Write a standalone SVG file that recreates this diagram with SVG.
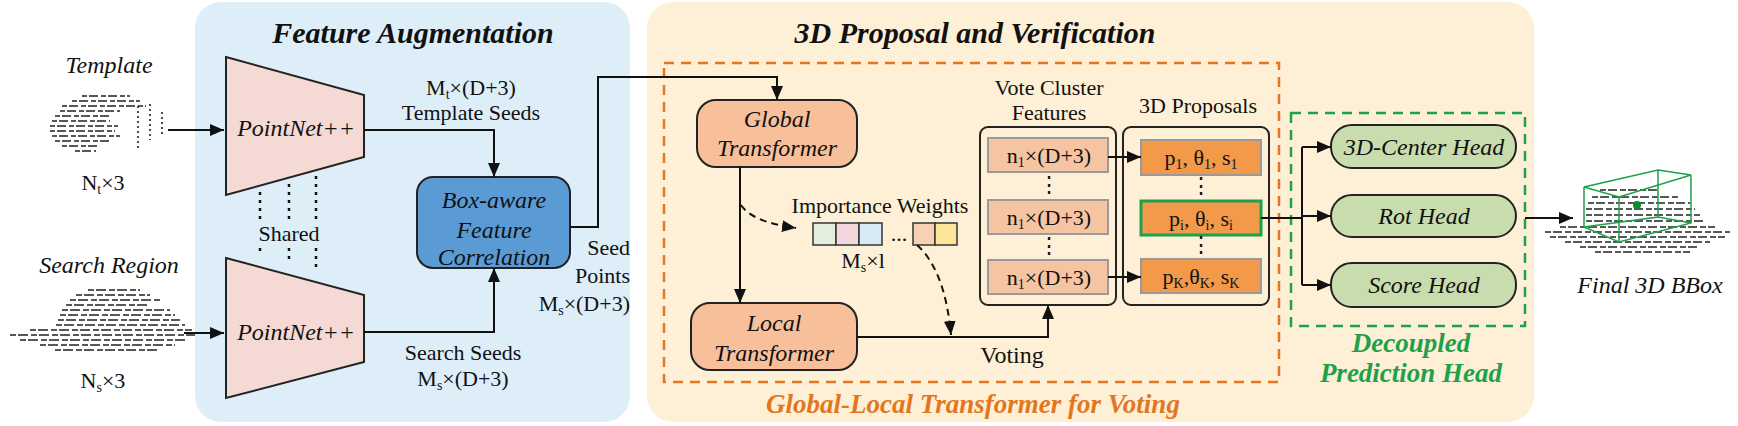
<svg xmlns="http://www.w3.org/2000/svg" width="1738" height="426" viewBox="0 0 1738 426">
<style>
text{font-family:"Liberation Serif","Times New Roman",serif;fill:#111;text-anchor:middle}
.t{font-size:22px}
.it{font-style:italic;font-size:24px}
.ttl{font-weight:bold;font-style:italic;font-size:30px}
.ln{fill:none;stroke:#111;stroke-width:2}
.dash{fill:none;stroke:#111;stroke-width:2;stroke-dasharray:7 5}
.cl{fill:none;stroke:#222;stroke-width:1.6}
.rnd{stroke:#222;stroke-width:2}
.vr{fill:#f5c4a2;stroke:#9a9a9a;stroke-width:2}
.pr{fill:#f2994a;stroke:#9a9a9a;stroke-width:2}
.hd{fill:#c9dcad;stroke:#222;stroke-width:2}
</style>
<defs>
<marker id="ah" viewBox="0 0 10 10" refX="9" refY="5" markerWidth="7" markerHeight="7" markerUnits="userSpaceOnUse" orient="auto" style="overflow:visible"><path d="M0,0 L10,5 L0,10 z" fill="#111" transform="scale(1.6) translate(-4,-1.9)"/></marker>
<marker id="a" viewBox="0 0 14 12" refX="14" refY="6" markerWidth="14" markerHeight="12" markerUnits="userSpaceOnUse" orient="auto"><path d="M0,0 L14,6 L0,12 z" fill="#111"/></marker>
</defs>
<g id="panels">
<rect x="195" y="2" width="435" height="420" rx="26" fill="#ddeef9"/>
<rect x="647" y="2" width="887" height="420" rx="26" fill="#fdf0d6"/>
<text class="ttl" x="413" y="43">Feature Augmentation</text>
<text class="ttl" x="975" y="43">3D  Proposal and Verification</text>
</g>
<g id="template">
<text class="it" x="109" y="73">Template</text>
<g class="cl" stroke-dasharray="5 2 9 3">
<path d="M82 96 H130 M72 101 H140 M62 106 H146 M60 111 H120 M55 116 H112 M52 121 H110 M50 126 H118 M50 131 H115 M52 136 H120 M55 141 H112 M62 146 H100 M75 151 H96"/>
<path d="M138 106 V150 M150 104 V140 M162 112 V134" stroke-dasharray="2 3"/>
</g>
<text class="t" x="103" y="190">N<tspan font-size="14" dy="4">t</tspan><tspan dy="-4">×3</tspan></text>
</g>
<g id="search">
<text class="it" x="109" y="273">Search Region</text>
<g class="cl" stroke-dasharray="6 2 10 3">
<path d="M88 290 H140 M76 295 H150 M70 300 H160 M66 305 H150 M62 310 H170 M60 315 H175 M58 320 H180 M56 325 H185 M30 330 H192 M10 335 H195 M20 340 H185 M40 345 H175 M55 350 H160"/>
</g>
<text class="t" x="103" y="388">N<tspan font-size="14" dy="4">s</tspan><tspan dy="-4">×3</tspan></text>
</g>
<g id="pointnet-top">
<polygon points="226,57 364,95 364,157 226,195" fill="#f4d9d4" stroke="#222" stroke-width="2"/>
<text class="it" x="296" y="136">PointNet++</text>
</g>
<g id="pointnet-bottom">
<polygon points="226,258 364,295 364,362 226,398" fill="#f4d9d4" stroke="#222" stroke-width="2"/>
<text class="it" x="296" y="340">PointNet++</text>
</g>
<g id="shared">
<path d="M260 192 V255 M289 184 V262 M316 176 V270" fill="none" stroke="#111" stroke-width="2.5" stroke-dasharray="3 5"/>
<rect x="258" y="220" width="62" height="26" fill="#ddeef9"/>
<text class="t" x="289" y="241">Shared</text>
</g>
<g id="boxaware">
<rect x="417" y="177" width="153" height="91" rx="16" fill="#5b9bd5" stroke="#222" stroke-width="2"/>
<text class="it" x="494" y="208">Box-aware</text>
<text class="it" x="494" y="238">Feature</text>
<text class="it" x="494" y="265">Correlation</text>
</g>
<g id="fa-labels">
<text class="t" x="471" y="95">M<tspan font-size="14" dy="4">t</tspan><tspan dy="-4">×(D+3)</tspan></text>
<text class="t" x="471" y="120">Template Seeds</text>
<text class="t" x="463" y="360">Search Seeds</text>
<text class="t" x="463" y="386">M<tspan font-size="14" dy="4">s</tspan><tspan dy="-4">×(D+3)</tspan></text>
<text class="t" x="630" y="255" style="text-anchor:end">Seed</text>
<text class="t" x="630" y="283" style="text-anchor:end">Points</text>
<text class="t" x="630" y="311" style="text-anchor:end">M<tspan font-size="14" dy="4">s</tspan><tspan dy="-4">×(D+3)</tspan></text>
</g>
<g id="glt-frame">
<rect x="664" y="63" width="615" height="319" fill="none" stroke="#e4761e" stroke-width="2.5" stroke-dasharray="10 7"/>
<text class="ttl" x="973" y="413" style="fill:#e4761e;font-size:27px">Global-Local Transformer for Voting</text>
</g>
<g id="global">
<rect x="697" y="100" width="160" height="67" rx="19" fill="#f8c09a" stroke="#222" stroke-width="2"/>
<text class="it" x="777" y="127">Global</text>
<text class="it" x="777" y="156">Transformer</text>
</g>
<g id="local">
<rect x="691" y="303" width="166" height="67" rx="19" fill="#f8c09a" stroke="#222" stroke-width="2"/>
<text class="it" x="774" y="331">Local</text>
<text class="it" x="774" y="361">Transformer</text>
</g>
<g id="weights">
<text class="t" x="880" y="213">Importance Weights</text>
<rect x="813" y="223" width="23" height="22" fill="#e3efdc" stroke="#333" stroke-width="1.5"/>
<rect x="836" y="223" width="23" height="22" fill="#f2d8dd" stroke="#333" stroke-width="1.5"/>
<rect x="859" y="223" width="23" height="22" fill="#d7eaf6" stroke="#333" stroke-width="1.5"/>
<text class="t" x="899" y="241">...</text>
<rect x="913" y="223" width="22" height="22" fill="#f8d1b4" stroke="#333" stroke-width="1.5"/>
<rect x="935" y="223" width="22" height="22" fill="#fde59a" stroke="#333" stroke-width="1.5"/>
<text class="t" x="863" y="268">M<tspan font-size="14" dy="4">s</tspan><tspan dy="-4">×l</tspan></text>
</g>
<g id="vote-cluster">
<text class="t" x="1049" y="95">Vote Cluster</text>
<text class="t" x="1049" y="120">Features</text>
<rect x="980" y="127" width="136" height="178" rx="8" fill="none" stroke="#222" stroke-width="2"/>
<rect class="vr" x="988" y="138" width="120" height="34"/>
<rect class="vr" x="988" y="200" width="120" height="34"/>
<rect class="vr" x="988" y="260" width="120" height="34"/>
<text class="t" x="1049" y="163">n<tspan font-size="14" dy="4">1</tspan><tspan dy="-4">×(D+3)</tspan></text>
<text class="t" x="1049" y="225">n<tspan font-size="14" dy="4">1</tspan><tspan dy="-4">×(D+3)</tspan></text>
<text class="t" x="1049" y="285">n<tspan font-size="14" dy="4">1</tspan><tspan dy="-4">×(D+3)</tspan></text>
<text class="t" x="1049" y="192">⋮</text>
<text class="t" x="1049" y="253">⋮</text>
</g>
<g id="proposals">
<text class="t" x="1198" y="113">3D Proposals</text>
<rect x="1123" y="127" width="146" height="178" rx="8" fill="none" stroke="#222" stroke-width="2"/>
<rect class="pr" x="1141" y="140" width="120" height="35"/>
<rect class="pr" x="1141" y="201" width="120" height="34" style="stroke:#1fa04a;stroke-width:3"/>
<rect class="pr" x="1141" y="259" width="120" height="34"/>
<text class="t" x="1201" y="165">p<tspan font-size="14" dy="4">1</tspan><tspan dy="-4">, θ</tspan><tspan font-size="14" dy="4">1</tspan><tspan dy="-4">, s</tspan><tspan font-size="14" dy="4">1</tspan></text>
<text class="t" x="1201" y="226">p<tspan font-size="14" dy="4">i</tspan><tspan dy="-4">, θ</tspan><tspan font-size="14" dy="4">i</tspan><tspan dy="-4">, s</tspan><tspan font-size="14" dy="4">i</tspan></text>
<text class="t" x="1201" y="284">p<tspan font-size="14" dy="4">K</tspan><tspan dy="-4">,θ</tspan><tspan font-size="14" dy="4">K</tspan><tspan dy="-4">, s</tspan><tspan font-size="14" dy="4">K</tspan></text>
<text class="t" x="1201" y="193">⋮</text>
<text class="t" x="1201" y="252">⋮</text>
</g>
<g id="heads">
<rect x="1291" y="113" width="234" height="213" fill="none" stroke="#1fa04a" stroke-width="2.5" stroke-dasharray="10 7"/>
<rect class="hd" x="1331" y="125" width="185" height="43" rx="21"/>
<rect class="hd" x="1331" y="195" width="185" height="42" rx="21"/>
<rect class="hd" x="1331" y="263" width="185" height="44" rx="21"/>
<text class="it" x="1424" y="155">3D-Center Head</text>
<text class="it" x="1424" y="224">Rot Head</text>
<text class="it" x="1424" y="293">Score Head</text>
<text class="ttl" x="1411" y="352" style="fill:#1fa04a;font-size:27px">Decoupled</text>
<text class="ttl" x="1411" y="382" style="fill:#1fa04a;font-size:27px">Prediction Head</text>
</g>
<g id="final">
<g class="cl" stroke-dasharray="6 2 9 3">
<path d="M1600 190 H1660 M1592 197 H1680 M1588 203 H1690 M1586 209 H1695 M1586 215 H1700 M1586 221 H1705 M1560 227 H1715 M1545 232 H1730 M1550 237 H1725 M1565 242 H1710 M1580 247 H1700 M1595 252 H1690"/>
</g>
<g fill="none" stroke="#1fa04a" stroke-width="1.5">
<path d="M1584 187 L1619 197 L1691 175 L1658 170 Z"/>
<path d="M1584 187 V227 L1619 242 L1691 223 V175 M1619 197 V242 M1658 170 V217 L1584 227 M1658 217 L1691 223"/>
</g>
<circle cx="1637" cy="205" r="4" fill="#0a8a2a"/>
<text class="it" x="1650" y="293">Final 3D BBox</text>
</g>
<g id="connectors">
<path class="ln" d="M168 130 H224" stroke-width="3" marker-end="url(#a)"/>
<path class="ln" d="M184 333 H224" stroke-width="3" marker-end="url(#a)"/>
<path class="ln" d="M364 130 H494 V177" marker-end="url(#a)"/>
<path class="ln" d="M364 332 H494 V268" marker-end="url(#a)"/>
<path class="ln" d="M570 227 H598 V77 H777 V100" marker-end="url(#a)"/>
<path class="ln" d="M740 167 V303" marker-end="url(#a)"/>
<path class="dash" d="M741 205 Q752 222 796 228" marker-end="url(#a)"/>
<path class="dash" d="M917 245 Q945 270 951 335" marker-end="url(#a)"/>
<path class="ln" d="M857 337 H1048 V305" marker-end="url(#a)"/>
<text class="t" x="1012" y="363" style="font-size:24px">Voting</text>
<path class="ln" d="M1108 157 H1141" marker-end="url(#a)"/>
<path class="ln" d="M1108 277 H1141" marker-end="url(#a)"/>
<path class="ln" d="M1261 218 H1302"/>
<path class="ln" d="M1302 147 V285"/>
<path class="ln" d="M1302 147 H1331" marker-end="url(#a)"/>
<path class="ln" d="M1302 216 H1331" marker-end="url(#a)"/>
<path class="ln" d="M1302 285 H1331" marker-end="url(#a)"/>
<path class="ln" d="M1525 218 H1573" marker-end="url(#a)"/>
</g>
</svg>
